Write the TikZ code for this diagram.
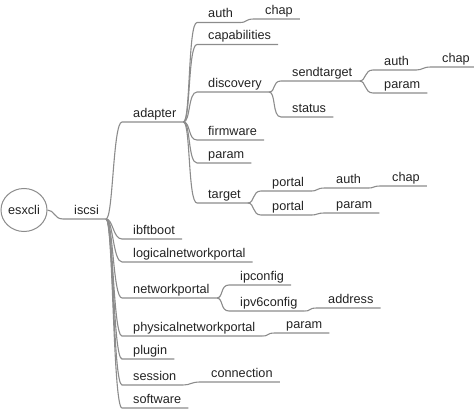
\documentclass[tikz,border=0pt]{standalone}
\usepackage{fontspec}
\setmainfont{Liberation Sans}
\usetikzlibrary{shapes.geometric}
\definecolor{linegray}{RGB}{140,140,140}
\definecolor{textgray}{RGB}{35,35,35}
\tikzset{
	topic/.style={anchor=south west, inner sep=0pt, text height=9pt, text depth=4.5pt, text=textgray,
		font=\fontsize{12.7}{14}\selectfont,
		execute at begin node={\hspace*{11pt}}, execute at end node={\hspace*{7pt}}},
	link/.style={draw=linegray, line width=1.1pt,
		to path={.. controls ([xshift=7pt]\tikztostart) and ([xshift=-9pt]\tikztotarget) .. (\tikztotarget)}}
}

\begin{document}
\begin{tikzpicture}[x=1pt,y=-1pt]
		%%%%% START %%%%%
		\useasboundingbox (0,0) rectangle (474,409);
		
		\node[ellipse, draw=linegray, line width=1pt, fill=white, minimum width=46pt, minimum height=43pt, inner sep=0pt, text=textgray, font=\fontsize{12.7}{14}\selectfont] (esxcli) at (24,210) {esxcli};
		\node[topic] (iscsi) at (63,219) {iscsi};
		
		% first level
		\node[topic] (adapter) at (122,122) {adapter};
		\node[topic] (ibftboot) at (122,239) {ibftboot};
		\node[topic] (lnp) at (122,262) {logicalnetworkportal};
		\node[topic] (netportal) at (122,298) {networkportal};
		\node[topic] (pnp) at (122,336) {physicalnetworkportal};
		\node[topic] (plugin) at (122,359) {plugin};
		\node[topic] (session) at (122,385) {session};
		\node[topic] (software) at (122,408) {software};
		
		% adapter
		\node[topic] (adauth) at (197,22.5) {auth};
		\node[topic] (adchap) at (254,19) {chap};
		\node[topic] (capab) at (197,44.5) {capabilities};
		\node[topic] (discovery) at (197,92) {discovery};
		\node[topic] (sendtarget) at (281,81) {sendtarget};
		\node[topic] (stauth) at (373,70) {auth};
		\node[topic] (stchap) at (431,67) {chap};
		\node[topic] (stparam) at (373,93) {param};
		\node[topic] (status) at (281,117) {status};
		\node[topic] (firmware) at (197,140) {firmware};
		\node[topic] (adparam) at (197,163) {param};
		\node[topic] (target) at (197,203) {target};
		\node[topic] (portala) at (261,191) {portal};
		\node[topic] (ptauth) at (325,188) {auth};
		\node[topic] (ptchap) at (381,186) {chap};
		\node[topic] (portalb) at (261,215) {portal};
		\node[topic] (ptparam) at (325,213) {param};
		
		% networkportal, physicalnetworkportal, session
		\node[topic] (ipconfig) at (229,285) {ipconfig};
		\node[topic] (ipvconfig) at (229,311) {ipv6config};
		\node[topic] (address) at (317,308) {address};
		\node[topic] (pnpparam) at (275,333) {param};
		\node[topic] (connection) at (200,382) {connection};
		
		\draw[link] (esxcli.east) to (iscsi.south west) -- (iscsi.south east);
		
		\foreach \n in {adapter,ibftboot,lnp,netportal,pnp,plugin,session,software}
			\draw[link] (iscsi.south east) to (\n.south west) -- (\n.south east);
		
		\foreach \n in {adauth,capab,discovery,firmware,adparam,target}
			\draw[link] (adapter.south east) to (\n.south west) -- (\n.south east);
		
		\draw[link] (adauth.south east) to (adchap.south west) -- (adchap.south east);
		\draw[link] (discovery.south east) to (sendtarget.south west) -- (sendtarget.south east);
		\draw[link] (discovery.south east) to (status.south west) -- (status.south east);
		\draw[link] (sendtarget.south east) to (stauth.south west) -- (stauth.south east);
		\draw[link] (sendtarget.south east) to (stparam.south west) -- (stparam.south east);
		\draw[link] (stauth.south east) to (stchap.south west) -- (stchap.south east);
		\draw[link] (target.south east) to (portala.south west) -- (portala.south east);
		\draw[link] (target.south east) to (portalb.south west) -- (portalb.south east);
		\draw[link] (portala.south east) to (ptauth.south west) -- (ptauth.south east);
		\draw[link] (ptauth.south east) to (ptchap.south west) -- (ptchap.south east);
		\draw[link] (portalb.south east) to (ptparam.south west) -- (ptparam.south east);
		
		\draw[link] (netportal.south east) to (ipconfig.south west) -- (ipconfig.south east);
		\draw[link] (netportal.south east) to (ipvconfig.south west) -- (ipvconfig.south east);
		\draw[link] (ipvconfig.south east) to (address.south west) -- (address.south east);
		\draw[link] (pnp.south east) to (pnpparam.south west) -- (pnpparam.south east);
		\draw[link] (session.south east) to (connection.south west) -- (connection.south east);
		%%%%% END %%%%%
	\end{tikzpicture}
\end{document}
